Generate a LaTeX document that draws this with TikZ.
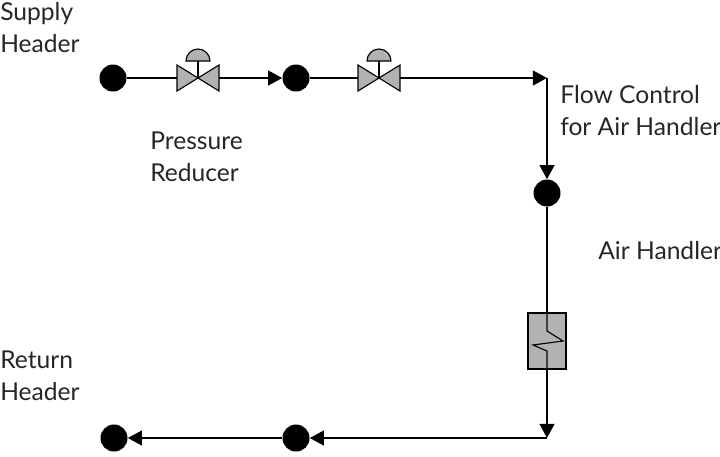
\documentclass[tikz,border=0pt]{standalone}
\usepackage{fontspec}
\setmainfont{Lato}
\usetikzlibrary{arrows.meta,positioning,calc}

\tikzset{
    dot/.style={circle, fill=black, minimum size=27*0.025cm, inner sep=0pt},
    flow/.style={line width=1.2pt, -{Triangle[length=10pt,width=10.5pt]}},
    pipe/.style={line width=1.2pt},
    lbl/.style={align=left, anchor=north west, inner sep=0pt, font=\fontsize{17.5}{22.7}\selectfont, text=black!85},
    part/.style={fill=black!30, draw=black, line width=0.8pt}
}

% valve with actuator dome
\newcommand{\ctlvalve}[2]{%
    \coordinate (#1) at #2;
    \coordinate (#1-w) at ($(#1)+(-21,0)$);
    \coordinate (#1-e) at ($(#1)+(21,0)$);
    \draw[part] (#1) -- ++(-21,-13) -- ++(0,26) -- cycle;
    \draw[part] (#1) -- ++(21,-13) -- ++(0,26) -- cycle;
    \draw[pipe] (#1) -- ++(0,-17);
    \draw[part] ($(#1)+(-12,-17)$) -- ++(24,0) arc[start angle=0,end angle=-180,radius=12] -- cycle;
}

\begin{document}
\begin{tikzpicture}[x=0.025cm, y=-0.025cm]
    \useasboundingbox (0,0) rectangle (720,456);

    % labels
    \node[lbl] (supply) at (0,2) {Supply\\Header};
    \node[lbl] (reducer) at (150,132) {Pressure\\Reducer};
    \node[lbl] (flowctl) at (560,85) {Flow Control\\for Air Handler};
    \node[lbl] (ahu) at (598,241) {Air Handler};
    \node[lbl] (ret) at (0,351) {Return\\Header};

    % supply side
    \node[dot] (d1) at (113,78) {};
    \node[dot] (d2) at (296,78) {};
    \node[dot] (d3) at (547,193) {};
    \ctlvalve{v1}{(198,78)}
    \ctlvalve{v2}{(379,78)}
    \coordinate (c1) at (547,78);
    \coordinate (c2) at (547,438);

    \draw[pipe] (d1) -- (v1-w);
    \draw[flow] (v1-e) -- (d2);
    \draw[pipe] (d2) -- (v2-w);
    \draw[flow] (v2-e) -- (c1);
    \draw[flow] (c1) -- (d3);

    % air handler coil
    \node[part, minimum width=38*0.025cm, minimum height=56*0.025cm, inner sep=0pt] (coil) at (547,341) {};
    \draw[pipe] (d3) -- (coil.north);
    \draw[line width=0.8pt] (coil.north) -- (547,331) -- (563,341) -- (533,345) -- (547,351) -- (coil.south);
    \draw[flow] (coil.south) -- (c2);

    % return side
    \node[dot] (d4) at (296,438) {};
    \node[dot] (d5) at (114,438) {};
    \draw[flow] (c2) -- (d4);
    \draw[flow] (d4) -- (d5);
\end{tikzpicture}
\end{document}
